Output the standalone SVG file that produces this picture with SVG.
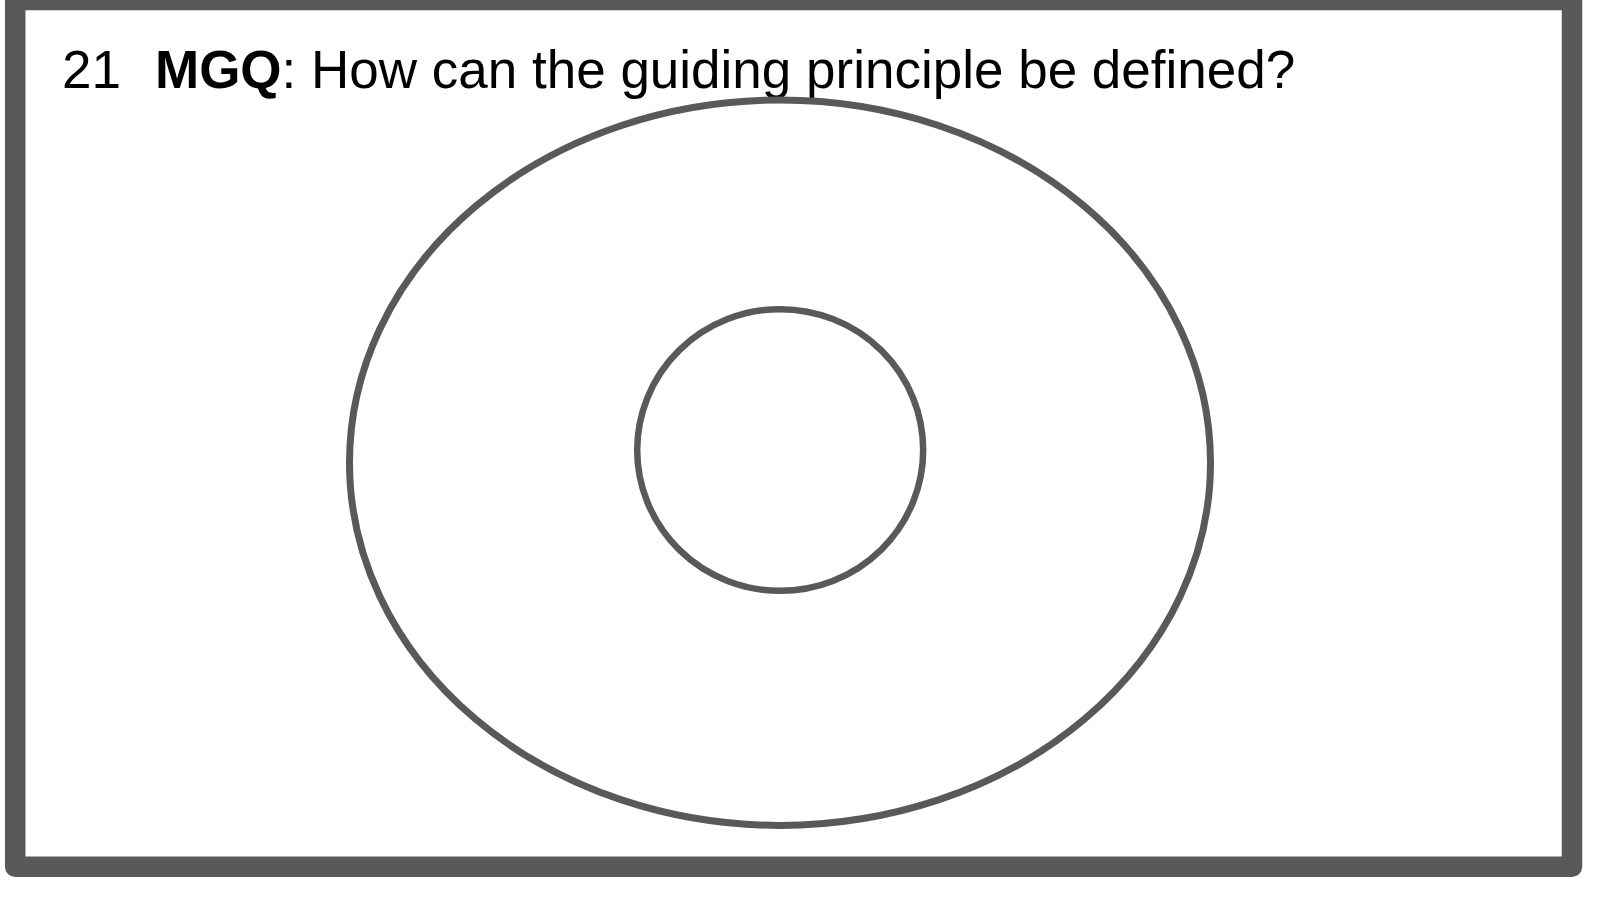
<svg xmlns="http://www.w3.org/2000/svg" width="1600" height="900" viewBox="0 0 1600 900">
  <style>
    .line { fill: none; stroke: #595959; }
    .title { font-family: "Liberation Sans", Arial, sans-serif; font-size: 53px; fill: #000000; }
  </style>
  <rect x="0" y="0" width="1600" height="900" fill="#ffffff"/>
  <g id="frame">
    <rect class="line" x="15.2" y="0" width="1556.8" height="866.8" stroke-width="20.5" stroke-linejoin="round"/>
  </g>
  <g id="title">
    <text class="title" x="62" y="88.3"><tspan>21</tspan><tspan x="155" font-weight="bold">MGQ</tspan><tspan>: How can the guiding principle be defined?</tspan></text>
  </g>
  <g id="outer-ellipse">
    <ellipse class="line" cx="780" cy="462.7" rx="430.5" ry="362.7" stroke-width="7"/>
  </g>
  <g id="inner-circle">
    <ellipse class="line" cx="780.2" cy="450" rx="143" ry="140.8" stroke-width="6.5"/>
  </g>
  <g id="connectors"/>
</svg>
